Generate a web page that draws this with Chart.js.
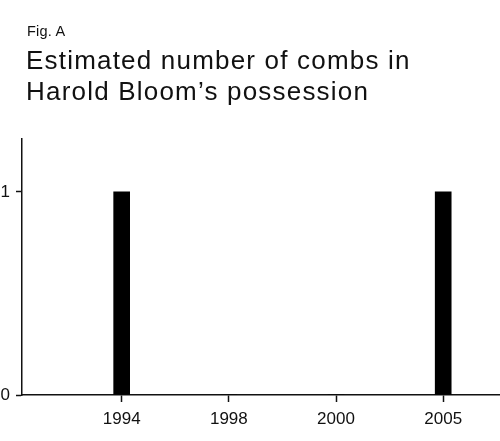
<!DOCTYPE html>
<html lang="en">
  <head>
    <meta charset="UTF-8" />
    <meta name="viewport" content="width=device-width, initial-scale=1.0" />
    <title>Combs</title>
    <script src="https://cdn.jsdelivr.net/npm/chart.js@4.4.0/dist/chart.umd.min.js"></script>
    <style>
      body {
        margin: 0;
        background: #fff;
        font-family: 'Liberation Sans', Arial, sans-serif;
        color: #111;
      }
      .wrap {
        position: relative;
        width: 500px;
        height: 441px;
      }
      .fig {
        position: absolute;
        left: 27px;
        top: 24px;
        font-size: 14.5px;
        line-height: 14px;
        letter-spacing: 0.2px;
      }
      .headline {
        position: absolute;
        left: 26px;
        top: 45px;
        margin: 0;
        font-weight: normal;
        font-size: 26px;
        line-height: 30.5px;
        letter-spacing: 1.2px;
      }
      canvas {
        position: absolute;
        left: 0;
        top: 0;
      }
    </style>
  </head>
  <body>
    <div class="wrap">
      <canvas id="combs" width="500" height="441"></canvas>
      <div class="fig">Fig. A</div>
      <h1 class="headline">Estimated number of combs in<br />Harold Bloom’s possession</h1>
    </div>

    <script>
      const years = ['1994', '1998', '2000', '2005']
      const combs = [1, 0, 0, 1]
      const yTicks = [0, 1]

      const ink = '#111'

      new Chart(document.getElementById('combs').getContext('2d'), {
        type: 'bar',
        data: {
          datasets: [
            {
              label: 'Combs',
              data: years.map((_, i) => ({ x: i, y: combs[i] })),
              backgroundColor: '#000',
              borderWidth: 0,
              barThickness: 16,
            },
          ],
        },
        options: {
          responsive: false,
          animation: false,
          layout: {
            padding: { top: 139, left: 0, right: 0, bottom: 0 },
          },
          plugins: {
            legend: { display: false },
            tooltip: { enabled: false },
          },
          scales: {
            x: {
              type: 'linear',
              min: -0.93,
              max: 3.53,
              offset: false,
              afterBuildTicks: (scale) => {
                scale.ticks = years.map((_, i) => ({ value: i }))
              },
              afterFit: (scale) => {
                scale.height = 46
              },
              grid: {
                offset: false,
                drawOnChartArea: false,
                drawTicks: true,
                tickLength: 7,
                tickWidth: 1.5,
                color: ink,
              },
              border: { display: true, color: ink, width: 1.5 },
              ticks: {
                padding: 7,
                color: ink,
                font: { family: "'Liberation Sans', Arial, sans-serif", size: 17 },
                callback: (value) => years[value],
              },
            },
            y: {
              min: 0,
              max: 1.26,
              afterBuildTicks: (scale) => {
                scale.ticks = yTicks.map((v) => ({ value: v }))
              },
              afterFit: (scale) => {
                scale.width = 22
              },
              grid: {
                drawOnChartArea: false,
                drawTicks: true,
                tickLength: 6,
                tickWidth: 1.5,
                color: ink,
              },
              border: { display: true, color: ink, width: 1.5 },
              ticks: {
                padding: 6,
                color: ink,
                font: { family: "'Liberation Sans', Arial, sans-serif", size: 17 },
              },
            },
          },
        },
      })
    </script>
  </body>
</html>
